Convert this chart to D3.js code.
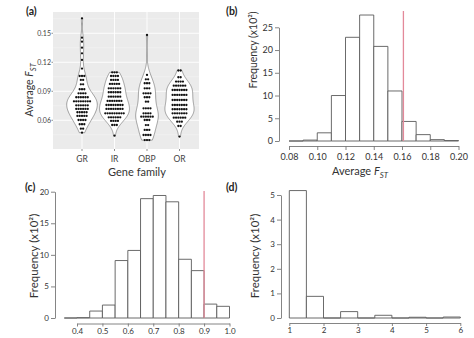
<!DOCTYPE html>
<html>
<head>
<meta charset="utf-8">
<script src="https://cdn.jsdelivr.net/npm/d3@7"></script>
<style>
body { margin: 0; background: #fff; }
svg { font-family: Lato, 'Open Sans', sans-serif; }
</style>
</head>
<body>
<div id="display"></div>
<script>
const w = 474;
const h = 338;

// (a) dot rows for each gene family: [average Fst, number of genes]
const families = ['GR', 'IR', 'OBP', 'OR'];
const grRows = [
    [0.1655, 1], [0.1454, 1], [0.1413, 1], [0.1351, 1], [0.1293, 1], [0.1224, 1],
    [0.1135, 1], [0.1058, 3], [0.1017, 2], [0.0972, 2], [0.0921, 3], [0.0879, 4],
    [0.0838, 6], [0.0796, 8], [0.0755, 6], [0.0717, 6], [0.0683, 5], [0.0645, 5],
    [0.0603, 4], [0.0559, 3], [0.0513, 2], [0.0472, 1]
];
const irRows = [
    [0.1096, 3], [0.1058, 4], [0.1017, 4], [0.0976, 5], [0.0931, 6], [0.0890, 6],
    [0.0844, 6], [0.0800, 7], [0.0758, 8], [0.0717, 8], [0.0672, 9], [0.0631, 6],
    [0.0593, 4], [0.0551, 3], [0.0441, 1]
];
const obpRows = [
    [0.1482, 1], [0.1069, 1], [0.1024, 2], [0.0983, 3], [0.0931, 3], [0.0879, 4],
    [0.0838, 3], [0.0792, 2], [0.0724, 4], [0.0672, 4], [0.0637, 6], [0.0603, 3],
    [0.0550, 2], [0.0500, 3], [0.0448, 4], [0.0395, 3]
];
const orRows = [
    [0.1115, 2], [0.1045, 2], [0.1000, 4], [0.0958, 6], [0.0913, 7], [0.0862, 7],
    [0.0810, 7], [0.0758, 7], [0.0714, 7], [0.0672, 7], [0.0627, 6], [0.0586, 3],
    [0.0541, 2], [0.0431, 1]
];
const fstTicks = [0.06, 0.09, 0.12, 0.15];
const fstMinor = [0.045, 0.075, 0.105, 0.135, 0.165];

// (b) average Fst histogram, frequency in hundreds
const fstEdges = [0.08, 0.09, 0.10, 0.11, 0.12, 0.13, 0.14, 0.15, 0.16, 0.17, 0.18, 0.19, 0.20];
const fstCounts = [0, 0.2, 1.8, 10.0, 22.8, 27.7, 20.8, 11.0, 4.3, 1.4, 0.3, 0.1];
const fstCut = 0.161;
const fstXTicks = [0.08, 0.10, 0.12, 0.14, 0.16, 0.18, 0.20];
const fstYTicks = [0, 5, 10, 15, 20, 25];

// (c)
const cEdges = [0.35, 0.40, 0.45, 0.50, 0.55, 0.60, 0.65, 0.70, 0.75, 0.80, 0.85, 0.90, 0.95, 1.00];
const cCounts = [0, 0.05, 1.1, 2.05, 9.1, 10.7, 18.9, 19.4, 18.4, 9.3, 7.5, 2.2, 1.85];
const cCut = 0.90;
const cXTicks = [0.4, 0.5, 0.6, 0.7, 0.8, 0.9, 1.0];
const cYTicks = [0, 5, 10, 15, 20];

// (d)
const dEdges = [1, 1.5, 2, 2.5, 3, 3.5, 4, 4.5, 5, 5.5, 6];
const dCounts = [5.18, 0.88, 0, 0.26, 0, 0.11, 0, 0.03, 0, 0.04];
const dXTicks = [1, 2, 3, 4, 5, 6];
const dYTicks = [0, 1, 2, 3, 4, 5];

const txt = '#333';
const barStroke = '#5a5a5a';
const cutColor = '#e3899a';

const panelLabel = (viz, x, y, t) => {
    viz.append('text')
        .attr('x', x).attr('y', y)
        .style('font-size', '10.5px')
        .style('font-weight', 'bold')
        .style('fill', '#222')
        .text(t);
}

const fstTitle = (sel, x, y, size, rotate) => {
    const t = sel.append('text')
        .attr('text-anchor', 'middle')
        .attr('transform', `translate(${x},${y})` + (rotate ? ' rotate(-90)' : ''))
        .style('font-size', size + 'px')
        .style('fill', txt);
    t.append('tspan').text('Average ');
    t.append('tspan').style('font-style', 'italic').text('F');
    t.append('tspan').style('font-style', 'italic')
        .style('font-size', (size * 0.72) + 'px')
        .attr('dy', size * 0.3).text('ST');
}

// gaussian kde, bandwidth by nrd0
const kde = (vals) => {
    const n = vals.length;
    const sd = d3.deviation(vals);
    const sorted = vals.slice().sort(d3.ascending);
    const iqr = d3.quantileSorted(sorted, 0.75) - d3.quantileSorted(sorted, 0.25);
    const bw = 0.9 * Math.min(sd, iqr / 1.34) * Math.pow(n, -0.2);
    const lo = sorted[0], hi = sorted[n - 1];
    const pts = d3.range(0, 101).map((i) => lo + (hi - lo) * i / 100);
    return pts.map((v) => {
        const s = d3.sum(vals, (u) => Math.exp(-0.5 * ((v - u) / bw) ** 2));
        return [v, s / (n * bw * Math.sqrt(2 * Math.PI))];
    });
}

const drawViolins = (viz) => {
    const left = 53, right = 199, top = 12, bottom = 149;
    const y = d3.scaleLinear().domain([0.0303, 0.172]).range([bottom, top]);
    const x = d3.scalePoint().domain(families).range([82, 179.5]);
    const g = viz.append('g');

    g.append('rect')
        .attr('x', left).attr('y', top)
        .attr('width', right - left).attr('height', bottom - top)
        .style('fill', '#ebebeb');
    g.selectAll('.minor').data(fstMinor).enter().append('line')
        .attr('x1', left).attr('x2', right)
        .attr('y1', (d) => y(d)).attr('y2', (d) => y(d))
        .style('stroke', '#f6f6f6').style('stroke-width', 0.5);
    g.selectAll('.major').data(fstTicks).enter().append('line')
        .attr('x1', left).attr('x2', right)
        .attr('y1', (d) => y(d)).attr('y2', (d) => y(d))
        .style('stroke', '#fff').style('stroke-width', 0.9);
    g.selectAll('.vmajor').data(families).enter().append('line')
        .attr('x1', (d) => x(d)).attr('x2', (d) => x(d))
        .attr('y1', top).attr('y2', bottom)
        .style('stroke', '#fff').style('stroke-width', 0.9);

    const rows = [grRows, irRows, obpRows, orRows];
    const dens = rows.map((r) => kde(r.flatMap(([v, c]) => d3.range(c).map(() => v))));
    const dMax = d3.max(dens, (d) => d3.max(d, (p) => p[1]));
    const half = d3.scaleLinear().domain([0, dMax]).range([0, 15.3]);

    families.forEach((f, i) => {
        const cx = x(f);
        const area = d3.area()
            .y((p) => y(p[0]))
            .x0((p) => cx - half(p[1]))
            .x1((p) => cx + half(p[1]))
            .curve(d3.curveBasis);
        g.append('path')
            .attr('d', area(dens[i]))
            .style('fill', '#fff')
            .style('stroke', '#666')
            .style('stroke-width', 0.6);

        const dots = rows[i].flatMap(([v, c]) => d3.range(c).map((k) => ({ v, off: (k - (c - 1) / 2) * 2.3 })));
        g.selectAll(`.dot-${f}`).data(dots).enter().append('circle')
            .attr('cx', (d) => cx + d.off)
            .attr('cy', (d) => y(d.v))
            .attr('r', 1.15)
            .style('fill', '#111');
    });

    // axes
    g.selectAll('.ylab').data(fstTicks).enter().append('text')
        .attr('x', 51).attr('y', (d) => y(d) + 2.5)
        .attr('text-anchor', 'end')
        .style('font-size', '7px').style('fill', '#444')
        .text((d) => d3.format('.2f')(d));
    g.selectAll('.ytick').data(fstTicks).enter().append('line')
        .attr('x1', 51.5).attr('x2', 53)
        .attr('y1', (d) => y(d)).attr('y2', (d) => y(d))
        .style('stroke', '#444').style('stroke-width', 0.6);
    g.selectAll('.xlab').data(families).enter().append('text')
        .attr('x', (d) => x(d)).attr('y', 162)
        .attr('text-anchor', 'middle')
        .style('font-size', '8.5px').style('fill', '#444')
        .text((d) => d);
    g.selectAll('.xtick').data(families).enter().append('line')
        .attr('x1', (d) => x(d)).attr('x2', (d) => x(d))
        .attr('y1', bottom).attr('y2', bottom + 2)
        .style('stroke', '#444').style('stroke-width', 0.6);

    fstTitle(g, 33, 90, 10.5, true);
    g.append('text')
        .attr('x', 137).attr('y', 176)
        .attr('text-anchor', 'middle')
        .style('font-size', '11px').style('fill', txt)
        .text('Gene family');
}

const makeHist = (viz, cfg) => {
    const x = d3.scaleLinear().domain(cfg.xDomain).range(cfg.xRange);
    const y = d3.scaleLinear().domain(cfg.yDomain).range(cfg.yRange);
    const g = viz.append('g');
    const bars = cfg.counts.map((n, i) => ({ x0: cfg.edges[i], x1: cfg.edges[i + 1], n }));

    g.selectAll('.bar').data(bars).enter().append('path')
        .attr('d', (d) => `M${x(d.x0)},${y(0)}V${y(d.n)}H${x(d.x1)}V${y(0)}Z`)
        .style('fill', '#fff')
        .style('stroke', barStroke)
        .style('stroke-width', 0.9);

    if (cfg.cut !== undefined) {
        g.append('line')
            .attr('x1', x(cfg.cut)).attr('x2', x(cfg.cut))
            .attr('y1', cfg.cutTop).attr('y2', y(0))
            .style('stroke', cutColor).style('stroke-width', 1.3);
    }

    const yAxis = d3.axisLeft(y).tickValues(cfg.yTicks).tickSize(4).tickSizeOuter(0)
        .tickFormat(d3.format('d'));
    const yg = g.append('g')
        .attr('transform', `translate(${cfg.yAxisX},0)`)
        .call(yAxis);

    const xa = cfg.xTicks;
    const xs = x.copy().domain([xa[0], xa[xa.length - 1]]).range([x(xa[0]), x(xa[xa.length - 1])]);
    const xAxis = d3.axisBottom(xs).tickValues(xa).tickSize(cfg.xTickLen).tickSizeOuter(0)
        .tickFormat(d3.format(cfg.xFmt));
    const xg = g.append('g')
        .attr('transform', `translate(0,${cfg.xAxisY})`)
        .call(xAxis);

    [yg, xg].forEach((a) => {
        a.select('.domain').style('stroke', '#777').style('stroke-width', 0.9);
        a.selectAll('.tick line').style('stroke', '#777').style('stroke-width', 0.9);
        a.selectAll('.tick text')
            .style('font-family', 'Lato, sans-serif')
            .style('font-size', cfg.tickSize + 'px')
            .style('fill', txt);
    });
    xg.selectAll('.tick text').attr('y', cfg.xLabelGap);
    yg.selectAll('.tick text').attr('x', -6);

    g.append('text')
        .attr('text-anchor', 'middle')
        .attr('transform', `translate(${cfg.titleX},${cfg.titleY}) rotate(-90)`)
        .style('font-size', cfg.titleSize + 'px')
        .style('fill', txt)
        .text('Frequency (x10²)');
    return g;
}

const main = () => {
    const viz = d3.select('#display').append('svg')
        .attr('width', w)
        .attr('height', h);

    drawViolins(viz);

    const gb = makeHist(viz, {
        edges: fstEdges, counts: fstCounts,
        xDomain: [0.08, 0.20], xRange: [289, 458.5],
        yDomain: [0, 25], yRange: [141, 27.3],
        cut: fstCut, cutTop: 11,
        xTicks: fstXTicks, yTicks: fstYTicks, xFmt: '.2f',
        yAxisX: 279, xAxisY: 146, xTickLen: 4, tickSize: 9, xLabelGap: 8,
        titleX: 257, titleY: 50, titleSize: 10.5
    });
    fstTitle(gb, 360, 175, 11, false);

    makeHist(viz, {
        edges: cEdges, counts: cCounts,
        xDomain: [0.4, 1.0], xRange: [77, 229.5],
        yDomain: [0, 20], yRange: [318, 191.7],
        cut: cCut, cutTop: 191,
        xTicks: cXTicks, yTicks: cYTicks, xFmt: '.1f',
        yAxisX: 55, xAxisY: 323.5, xTickLen: 3, tickSize: 8, xLabelGap: 4.5,
        titleX: 38, titleY: 256, titleSize: 11.5
    });

    makeHist(viz, {
        edges: dEdges, counts: dCounts,
        xDomain: [1, 6], xRange: [289.3, 460.3],
        yDomain: [0, 5], yRange: [318, 195],
        xTicks: dXTicks, yTicks: dYTicks, xFmt: 'd',
        yAxisX: 281, xAxisY: 323, xTickLen: 3, tickSize: 8, xLabelGap: 4.5,
        titleX: 259, titleY: 256, titleSize: 11.5
    });

    panelLabel(viz, 26, 15, '(a)');
    panelLabel(viz, 226, 15, '(b)');
    panelLabel(viz, 25, 191, '(c)');
    panelLabel(viz, 226, 191, '(d)');
}

main();
</script>
</body>
</html>
